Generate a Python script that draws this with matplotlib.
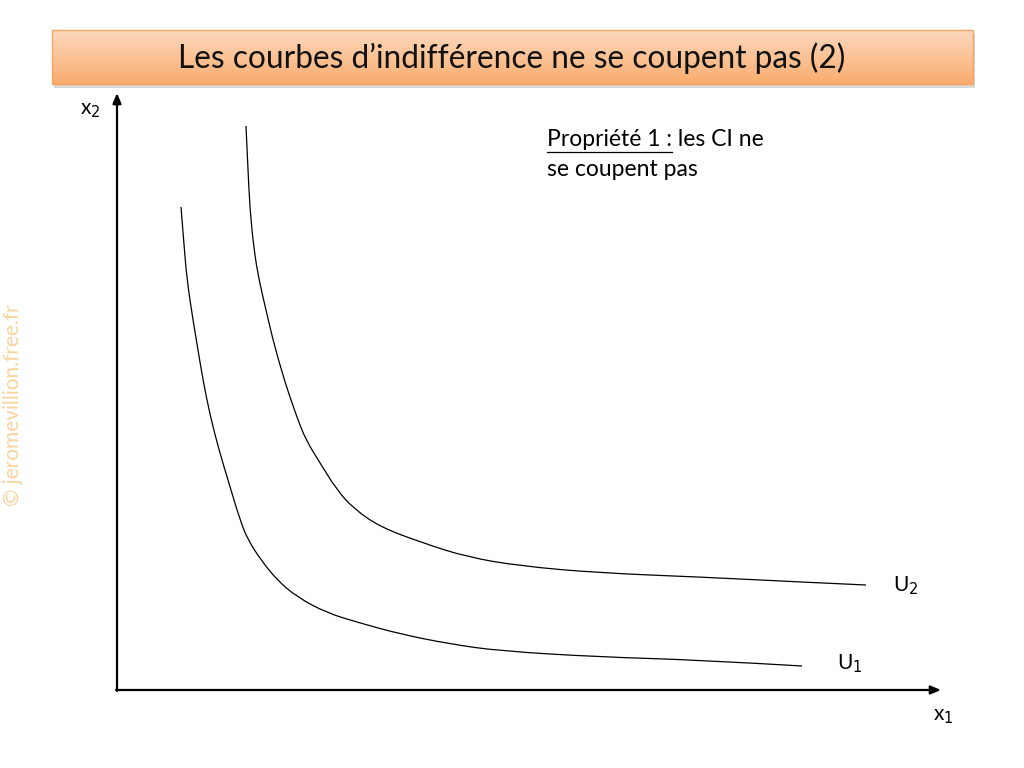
import numpy as np
import matplotlib.pyplot as plt
from matplotlib.patches import FancyBboxPatch, PathPatch
from matplotlib.path import Path

# curve points (pixel units, y grows downward)
u1_x = [181, 184, 187, 193, 198, 203, 210, 219, 228, 240, 248, 261, 277, 297, 327, 360, 400, 450, 500, 600, 700, 802]
u1_y = [207, 245, 280, 320, 350, 380, 415, 450, 480, 520, 540, 560, 580, 597, 613, 623, 634, 644, 651, 657, 660, 666]
u2_x = [246, 248, 250, 254, 259, 266, 273, 280, 286, 291, 298, 306, 320, 337, 353, 380, 423, 467, 520, 600, 700, 800, 866]
u2_y = [126, 170, 210, 250, 280, 310, 340, 365, 385, 400, 420, 440, 463, 490, 508, 527, 543, 557, 566, 573, 577, 582, 585]

title = "Les courbes d\u2019indifférence ne se coupent pas (2)"
note_ul = "Propriété 1 :"
note_rest = " les CI ne"
note_line2 = "se coupent pas"
watermark = "© jeromevillion.free.fr"


def smooth_path(xs, ys):
    # quadratic bezier through midpoints, read points act as control points
    pts = np.column_stack([xs, ys]).astype(float)
    verts = [pts[0]]
    codes = [Path.MOVETO]
    for i in range(1, len(pts) - 1):
        verts += [pts[i], (pts[i] + pts[i + 1]) / 2 if i < len(pts) - 2 else pts[i + 1]]
        codes += [Path.CURVE3, Path.CURVE3]
    return Path(verts, codes)


fig = plt.figure(figsize=(10.24, 7.68), dpi=100)
ax = fig.add_axes([0, 0, 1, 1])

# title banner: shadow + gradient fill + border
ax.add_patch(FancyBboxPatch((54, 34), 921, 54, boxstyle='square,pad=0', fc='#c0c0c0', ec='none', alpha=0.6, zorder=1))
grad = np.linspace(0, 1, 100).reshape(-1, 1)
top = np.array([252, 217, 190]) / 255.
bot = np.array([249, 172, 110]) / 255.
img = top + (bot - top) * grad[..., None]
ax.imshow(img, extent=(52, 973, 84, 30), aspect='auto', zorder=2)
ax.add_patch(FancyBboxPatch((52, 30), 921, 54, boxstyle='square,pad=0', fc='none', ec='#f5a465', lw=1, zorder=3))
ax.text(512, 58, title, ha='center', va='center', fontsize=22.8, family='Lato', color='#111111', zorder=4)
ax.set_xlim(0, 1024)
ax.set_ylim(768, 0)
ax.axis('off')

# axes with arrows
ax.annotate('', xy=(117, 93), xytext=(117, 691),
            arrowprops=dict(arrowstyle='-|>,head_length=0.6,head_width=0.25', lw=1.6, color='black', shrinkA=0, shrinkB=0))
ax.annotate('', xy=(941, 690), xytext=(116, 690),
            arrowprops=dict(arrowstyle='-|>,head_length=0.6,head_width=0.25', lw=1.6, color='black', shrinkA=0, shrinkB=0))

# indifference curves
for xs, ys in [(u1_x, u1_y), (u2_x, u2_y)]:
    ax.add_patch(PathPatch(smooth_path(xs, ys), fc='none', ec='black', lw=0.9))

lab = dict(fontsize=15, family='Lato', color='black')
ax.text(80, 110, r'x$_2$', ha='left', va='center', **lab)
ax.text(933, 716, r'x$_1$', ha='left', va='center', **lab)
ax.text(893, 586, r'U$_2$', ha='left', va='center', **lab)
ax.text(837, 664, r'U$_1$', ha='left', va='center', **lab)

# note with underlined first part
nfont = dict(fontsize=16.5, family='Lato', color='black')
t1 = ax.text(547, 140, note_ul, ha='left', va='center', **nfont)
fig.canvas.draw()
bb = t1.get_window_extent().transformed(ax.transData.inverted())
ax.plot([bb.x0, bb.x1], [152, 152], color='black', lw=0.9)
ax.text(bb.x1, 140, note_rest, ha='left', va='center', **nfont)
ax.text(547, 170, note_line2, ha='left', va='center', **nfont)

# watermark
ax.text(13, 405, watermark, rotation=90, ha='center', va='center', fontsize=15,
        family='Lato', color='#f9d49c')

fig.savefig('out.png', dpi=100)
